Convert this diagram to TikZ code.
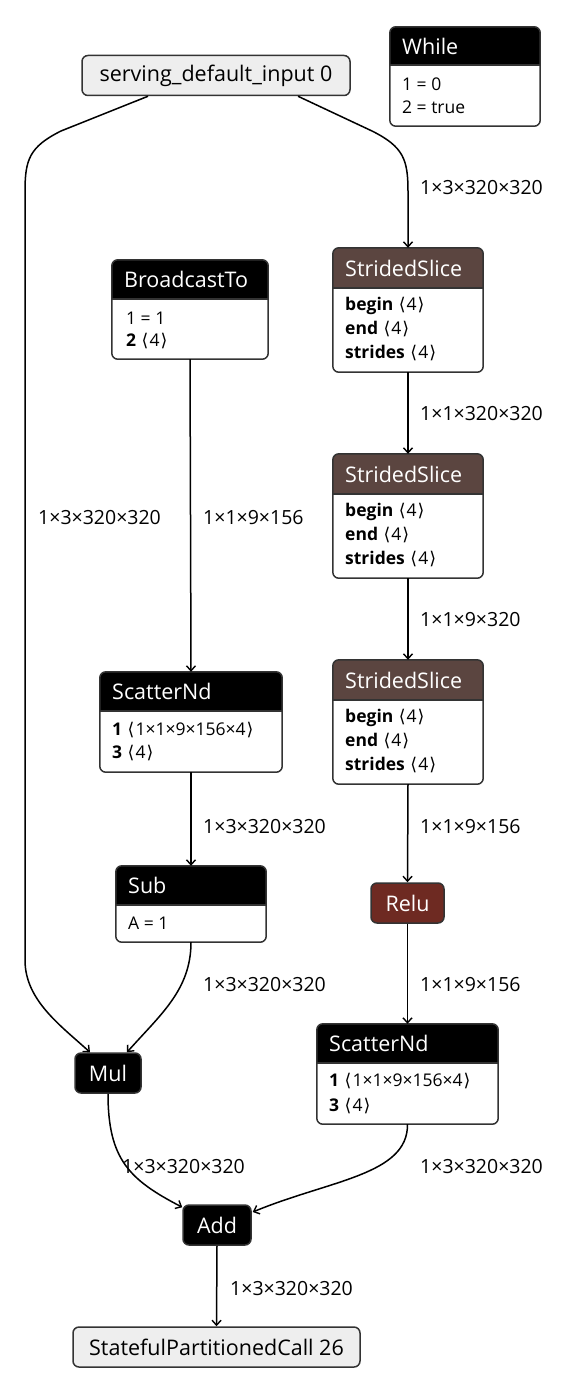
\documentclass[tikz,border=0pt]{standalone}
\usepackage{fontspec}
\setmainfont{Open Sans}
\newfontfamily\djv{DejaVu Sans}
\usetikzlibrary{arrows.meta,fit,calc}
\definecolor{boxline}{HTML}{333333}
\definecolor{hdrblack}{HTML}{000000}
\definecolor{hdrshape}{HTML}{5B4540}
\definecolor{hdrrelu}{HTML}{6E2A22}
\definecolor{iofill}{HTML}{EEEEEE}
\newcommand\br[1]{\hspace{1pt}{\djv\char"27E8}\hspace{1pt}#1\hspace{1pt}{\djv\char"27E9}}
\tikzset{
  outline/.style={draw=boxline, line width=1.5pt},
  titletext/.style={font=\fontsize{21.5}{24}\selectfont, text=white, inner sep=0pt},
  attrtext/.style={font=\fontsize{17.5}{22}\selectfont, text=black, inner sep=0pt, anchor=west},
  lbl/.style={font=\fontsize{19.5}{22}\selectfont, text=black, inner sep=0pt, anchor=west},
  simple/.style={outline, rounded corners=6pt, inner sep=0pt, minimum height=40pt,
     font=\fontsize{21.5}{24}\selectfont},
  edge/.style={line width=1.5pt, draw=black, -{Straight Barb[length=5pt,width=9pt,line width=1.4pt]}},
}
\newcommand\gbox[8]{%
  \node[fit={(#2,#3) (#4,#5)}, inner sep=0pt] (#1) {};
  \begin{scope}
    \clip[rounded corners=6pt] (#1.north west) rectangle (#1.south east);
    \fill[white] (#1.north west) rectangle (#1.south east);
    \fill[#7] (#1.north west) rectangle (#4,#6);
  \end{scope}
  \draw[outline, rounded corners=6pt] (#1.north west) rectangle (#1.south east);
  \draw[outline] (#2,#6) -- (#4,#6);
  \node[titletext, anchor=west] (#1t) at ({#2+12}, {(#3+#6)/2}) {#8};
}
\begin{document}
\begin{tikzpicture}[x=1pt,y=-1pt]
\useasboundingbox (0,0) rectangle (572,1394);

% simple nodes
\node[simple, fill=iofill, minimum width=268pt] (in) at (216,75.5) {serving\_default\_input 0};
\node[simple, fill=hdrrelu, text=white, minimum width=73pt] (relu) at (407.5,903) {Relu};
\node[simple, fill=black, text=white, minimum width=66pt] (mul) at (108,1073) {Mul};
\node[simple, fill=black, text=white, minimum width=68pt] (add) at (217,1225) {Add};
\node[simple, fill=iofill, minimum width=287pt] (spc) at (216.5,1347) {StatefulPartitionedCall 26};

% boxes with headers
\gbox{wh}{390}{27}{540}{126}{65}{hdrblack}{While}
\node[attrtext] (wh1) at (402,84) {1 = 0};
\node[attrtext] (wh2) at (402,107) {2 = true};

\gbox{bc}{112}{260}{268}{359}{299}{hdrblack}{BroadcastTo}
\node[attrtext] (bc1) at (126,318) {1 = 1};
\node[attrtext] (bc2) at (126,341) {\textbf{2} \br{4}};

\gbox{ssa}{333}{248}{483}{372}{288}{hdrshape}{StridedSlice}
\node[attrtext] (ssa1) at (345,306) {\textbf{begin} \br{4}};
\node[attrtext] (ssa2) at (345,329) {\textbf{end} \br{4}};
\node[attrtext] (ssa3) at (345,353) {\textbf{strides} \br{4}};

\gbox{ssb}{333}{454}{483}{578}{494}{hdrshape}{StridedSlice}
\node[attrtext] (ssb1) at (345,512) {\textbf{begin} \br{4}};
\node[attrtext] (ssb2) at (345,535) {\textbf{end} \br{4}};
\node[attrtext] (ssb3) at (345,559) {\textbf{strides} \br{4}};

\gbox{ssc}{333}{660}{483}{784}{700}{hdrshape}{StridedSlice}
\node[attrtext] (ssc1) at (345,718) {\textbf{begin} \br{4}};
\node[attrtext] (ssc2) at (345,741) {\textbf{end} \br{4}};
\node[attrtext] (ssc3) at (345,765) {\textbf{strides} \br{4}};

\gbox{sca}{100}{672}{282}{772}{711}{hdrblack}{ScatterNd}
\node[attrtext] (sca1) at (112,730) {\textbf{1} \br{1×1×9×156×4}};
\node[attrtext] (sca2) at (112,753) {\textbf{3} \br{4}};

\gbox{sub}{116}{866}{266}{942}{905}{hdrblack}{Sub}
\node[attrtext] (sub1) at (128,923) {A = 1};

\gbox{scb}{317}{1024}{498}{1124}{1063}{hdrblack}{ScatterNd}
\node[attrtext] (scb1) at (329,1081) {\textbf{1} \br{1×1×9×156×4}};
\node[attrtext] (scb2) at (329,1106) {\textbf{3} \br{4}};

% edges
\draw[edge] ($(in.south)+(82,0)$) -- (372,131) .. controls (404,147) and (408,160) .. (408,192) -- (ssa.north);
\draw[edge] ($(in.south)+(-68,0)$) -- (61,131) .. controls (29,147) and (25,160) .. (25,192) -- (25,960) .. controls (25,1000) and (60,1025) .. ($(mul.north)+(-18,0)$);
\draw[edge] (bc.south) -- (sca.north);
\draw[edge] (ssa.south) -- (ssb.north);
\draw[edge] (ssb.south) -- (ssc.north);
\draw[edge] (ssc.south) -- (relu.north);
\draw[edge] (relu.south) -- (scb.north);
\draw[edge] (sca.south) -- (sub.north);
\draw[edge] (sub.south) .. controls (191,990) and (160,1015) .. ($(mul.north)+(19,0)$);
\draw[edge] (mul.south) .. controls (108,1160) and (130,1180) .. ($(add.north west)+(0,3)$);
\draw[edge] (scb.south) .. controls (408,1175) and (330,1180) .. ($(add.east)+(1,-13)$);
\draw[edge] (add.south) -- (spc.north);

% edge labels
\node[lbl] (l1) at (420,188) {1×3×320×320};
\node[lbl] (l2) at (38,518) {1×3×320×320};
\node[lbl] (l3) at (203,518) {1×1×9×156};
\node[lbl] (l4) at (420,414) {1×1×320×320};
\node[lbl] (l5) at (420,620) {1×1×9×320};
\node[lbl] (l6) at (420,827) {1×1×9×156};
\node[lbl] (l7) at (420,985) {1×1×9×156};
\node[lbl] (l8) at (203,827) {1×3×320×320};
\node[lbl] (l9) at (203,985) {1×3×320×320};
\node[lbl] (l10) at (122,1167) {1×3×320×320};
\node[lbl] (l11) at (420,1167) {1×3×320×320};
\node[lbl] (l12) at (230,1289) {1×3×320×320};
\end{tikzpicture}
\end{document}
